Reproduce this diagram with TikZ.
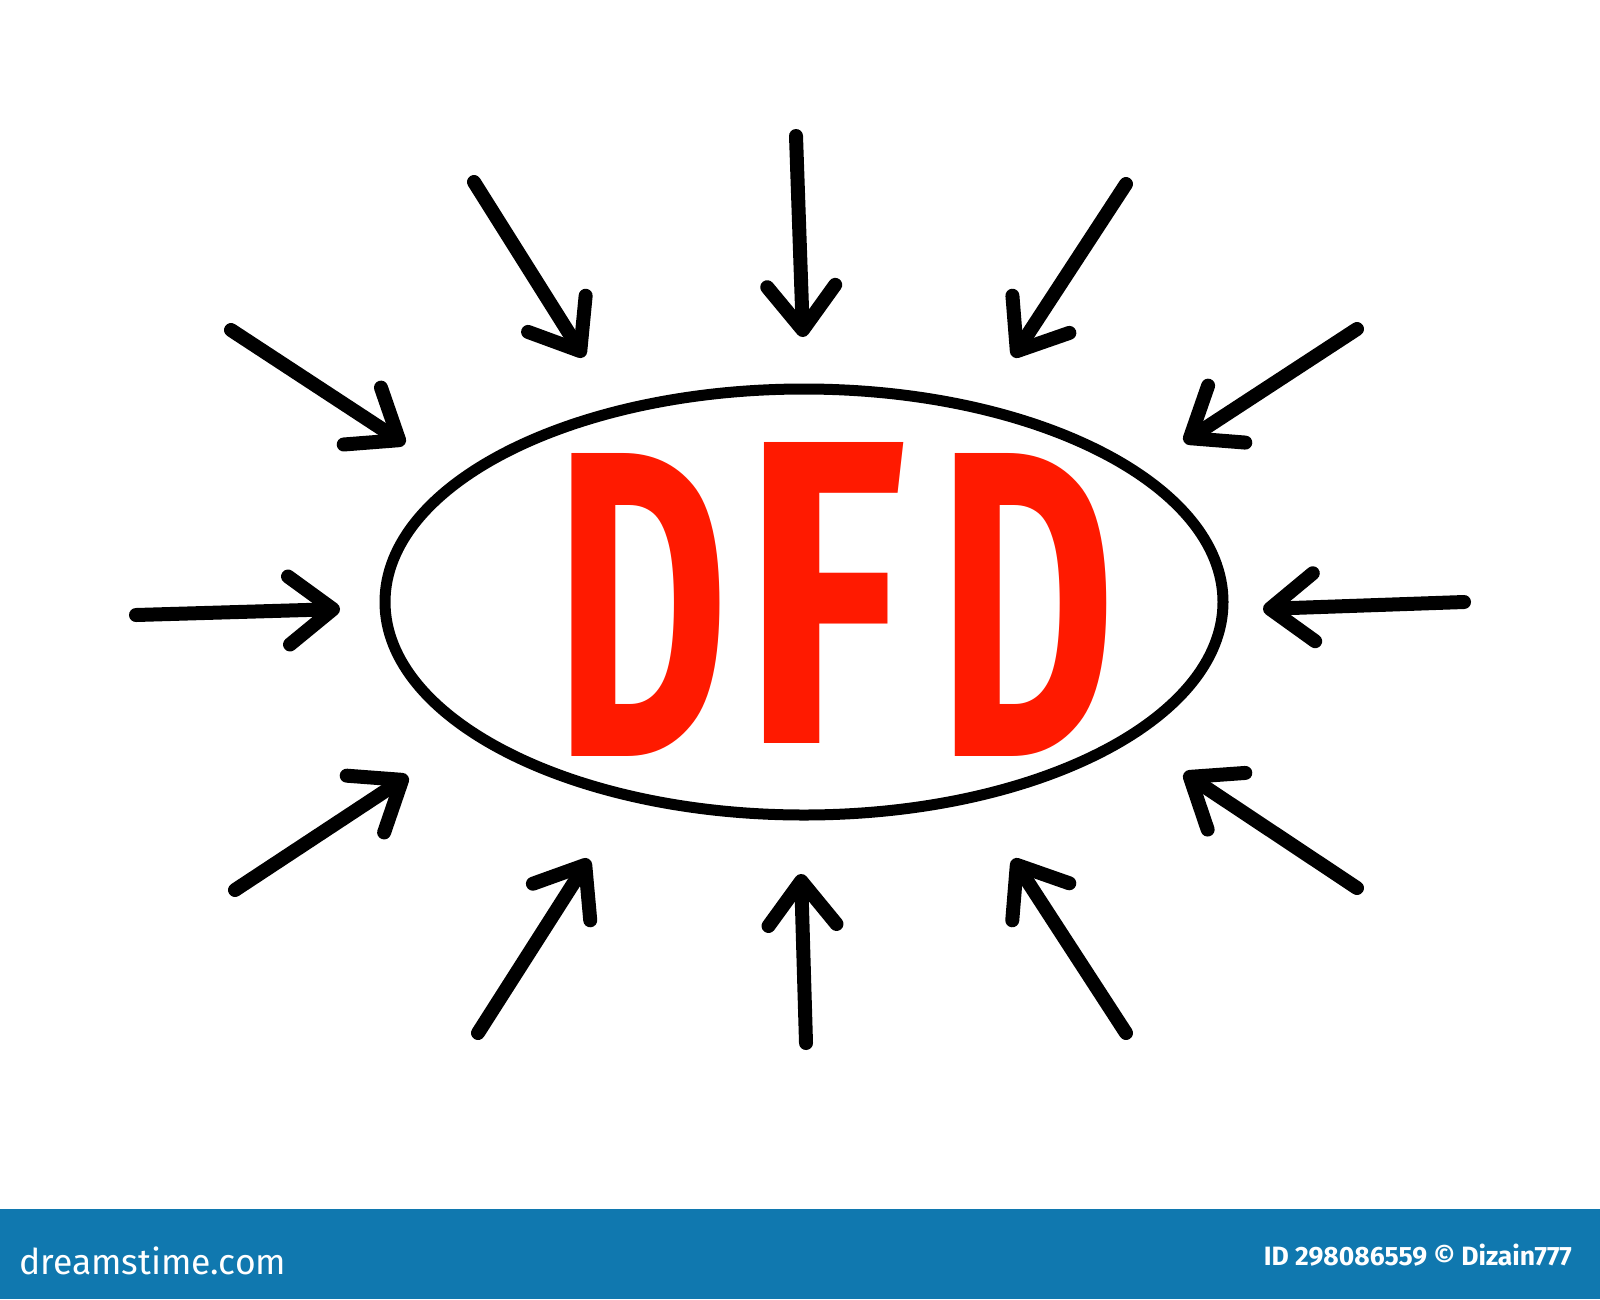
\documentclass[tikz,border=0pt]{standalone}
\usepackage{fontspec}
\setmainfont{Fira Sans}
\usetikzlibrary{arrows.meta,shapes.geometric}
\definecolor{dfdred}{RGB}{255,26,0}
\definecolor{bannerblue}{RGB}{16,120,175}
\tikzset{
  arr/.style={line width=14pt, line cap=round, line join=round,
    -{Straight Barb[length=44pt, width=68pt, line cap=round, line join=round]}},
  letter/.style={inner sep=0pt, outer sep=0pt, text=dfdred, font=\bfseries},
  oval/.style={draw=black, line width=11pt, ellipse, inner sep=0pt},
}
\begin{document}
\begin{tikzpicture}[x=1pt, y=-1pt]
\useasboundingbox (0,0) rectangle (1600,1299);
\fill[white] (0,0) rectangle (1600,1299);
% central ellipse
\node[oval, minimum width=838pt, minimum height=426pt] (c) at (804,602) {};
% letters
\node[letter, anchor=south west] (d1) at (554,756) {\resizebox{174pt}{302pt}{D}};
\node[letter, anchor=south west] (f) at (742,743) {\resizebox{164pt}{300pt}{F}};
\node[letter, anchor=south west] (d2) at (937,756) {\resizebox{178pt}{302pt}{D}};
% arrow coordinates
\coordinate (t1) at (796,136);  \coordinate (h1) at (803,337);
\coordinate (t2) at (474,182);  \coordinate (h2) at (584,357);
\coordinate (t3) at (1126,184); \coordinate (h3) at (1013,357);
\coordinate (t4) at (231,330);  \coordinate (h4) at (405,444);
\coordinate (t5) at (1357,329); \coordinate (h5) at (1184,442);
\coordinate (t6) at (136,615);  \coordinate (h6) at (340,609);
\coordinate (t7) at (1464,602); \coordinate (h7) at (1263,609);
\coordinate (t8) at (235,890);  \coordinate (h8) at (408,776);
\coordinate (t9) at (1357,888); \coordinate (h9) at (1184,773);
\coordinate (t10) at (478,1033); \coordinate (h10) at (589,859);
\coordinate (t11) at (806,1043); \coordinate (h11) at (801,874);
\coordinate (t12) at (1126,1033); \coordinate (h12) at (1013,859);
\foreach \i in {1,...,12} { \draw[arr] (t\i) -- (h\i); }
% banner
\fill[bannerblue] (0,1209) rectangle (1600,1299);
\node[anchor=west, text=white, inner sep=0pt, font=\fontsize{35.5}{36}\selectfont] (brand) at (19,1261) {dreamstime.com};
\node[anchor=east, text=white, inner sep=0pt, font=\bfseries\fontsize{26}{26}\selectfont] (credit) at (1572,1255) {\resizebox{308pt}{!}{ID 298086559 © Dizain777}};
\end{tikzpicture}
\end{document}
